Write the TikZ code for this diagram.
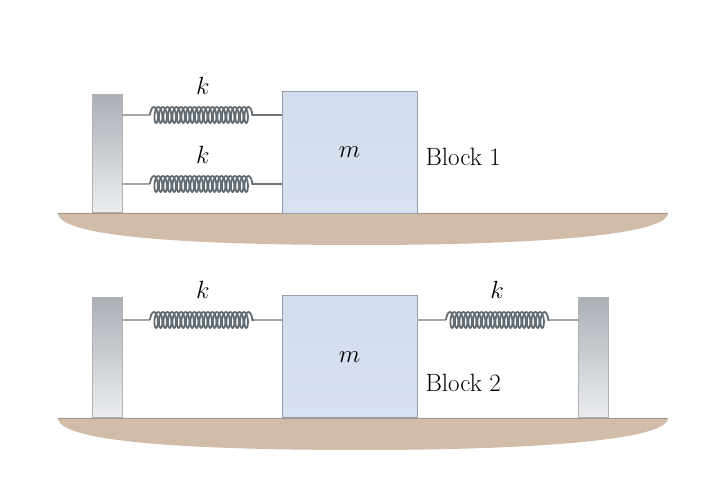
\documentclass[tikz,border=0pt]{standalone}
\usetikzlibrary{decorations.pathmorphing}
\definecolor{groundc}{RGB}{208,188,168}
\definecolor{wallc}{RGB}{190,196,204}
\definecolor{blockc}{RGB}{200,212,232}
\definecolor{coilc}{RGB}{100,108,115}
\tikzset{
 wall/.style={draw=gray!60,line width=1pt,top color=wallc!90!black,bottom color=wallc!30!white},
 blk/.style={draw=blockc!75!black,line width=1pt,top color=blockc!80!white,bottom color=blockc!70!white,minimum width=135pt,minimum height=122pt,inner sep=0pt},
 rod/.style={line width=1.6pt,draw=gray!70},
 coil/.style={decorate,decoration={coil,aspect=0.35,segment length=4.5pt,amplitude=8pt},line width=1.8pt,draw=coilc},
 lab/.style={font=\fontsize{30}{32}\selectfont},
 txt/.style={font=\fontsize{25}{28}\selectfont}
}
\begin{document}
\begin{tikzpicture}[x=1pt,y=-1pt]
\useasboundingbox (0,0) rectangle (716,502);
% grounds
\foreach \g in {213,418}{
 \fill[groundc] (58,\g) -- (668,\g) .. controls (668,\g+25) and (500,\g+32) .. (363,\g+32) .. controls (200,\g+32) and (58,\g+25) .. (58,\g) -- cycle;
 \draw[groundc!80!black,line width=0.8pt] (58,\g) -- (668,\g);
}
% block 1
\draw[wall] (92,95) rectangle (122,213);
\node[blk] (b1) at (349.5,152.5) {};
\node[lab] at (b1) {$m$};
\node[txt,anchor=west] at (422,157) {Block 1};
\foreach \yy/\n in {115/a,184/b}{
 \coordinate (s\n1) at (122,\yy);
 \coordinate (s\n2) at (150,\yy);
 \coordinate (s\n3) at (254,\yy);
 \coordinate (s\n4) at (282,\yy);
 \draw[rod] (s\n1) -- (s\n2);
 \draw[rod,draw=gray!90!black] (s\n3) -- (s\n4);
 \draw[coil] (s\n2) -- (s\n3);
}
\node[lab] at (203,86) {$k$};
\node[lab] at (203,155) {$k$};
% block 2
\draw[wall] (92,298) rectangle (122,418);
\draw[wall] (578,298) rectangle (608,418);
\node[blk] (b2) at (349.5,357) {};
\node[lab] at (b2) {$m$};
\node[txt,anchor=west] at (422,383) {Block 2};
\coordinate (c1) at (122,320); \coordinate (c2) at (150,320);
\coordinate (c3) at (254,320); \coordinate (c4) at (282,320);
\draw[rod] (c1) -- (c2); \draw[rod] (c3) -- (c4); \draw[coil] (c2) -- (c3);
\coordinate (d1) at (417,320); \coordinate (d2) at (446,320);
\coordinate (d3) at (549,320); \coordinate (d4) at (578,320);
\draw[rod] (d1) -- (d2); \draw[rod] (d3) -- (d4); \draw[coil] (d2) -- (d3);
\node[lab] at (203,290) {$k$};
\node[lab] at (497,290) {$k$};
\end{tikzpicture}
\end{document}
